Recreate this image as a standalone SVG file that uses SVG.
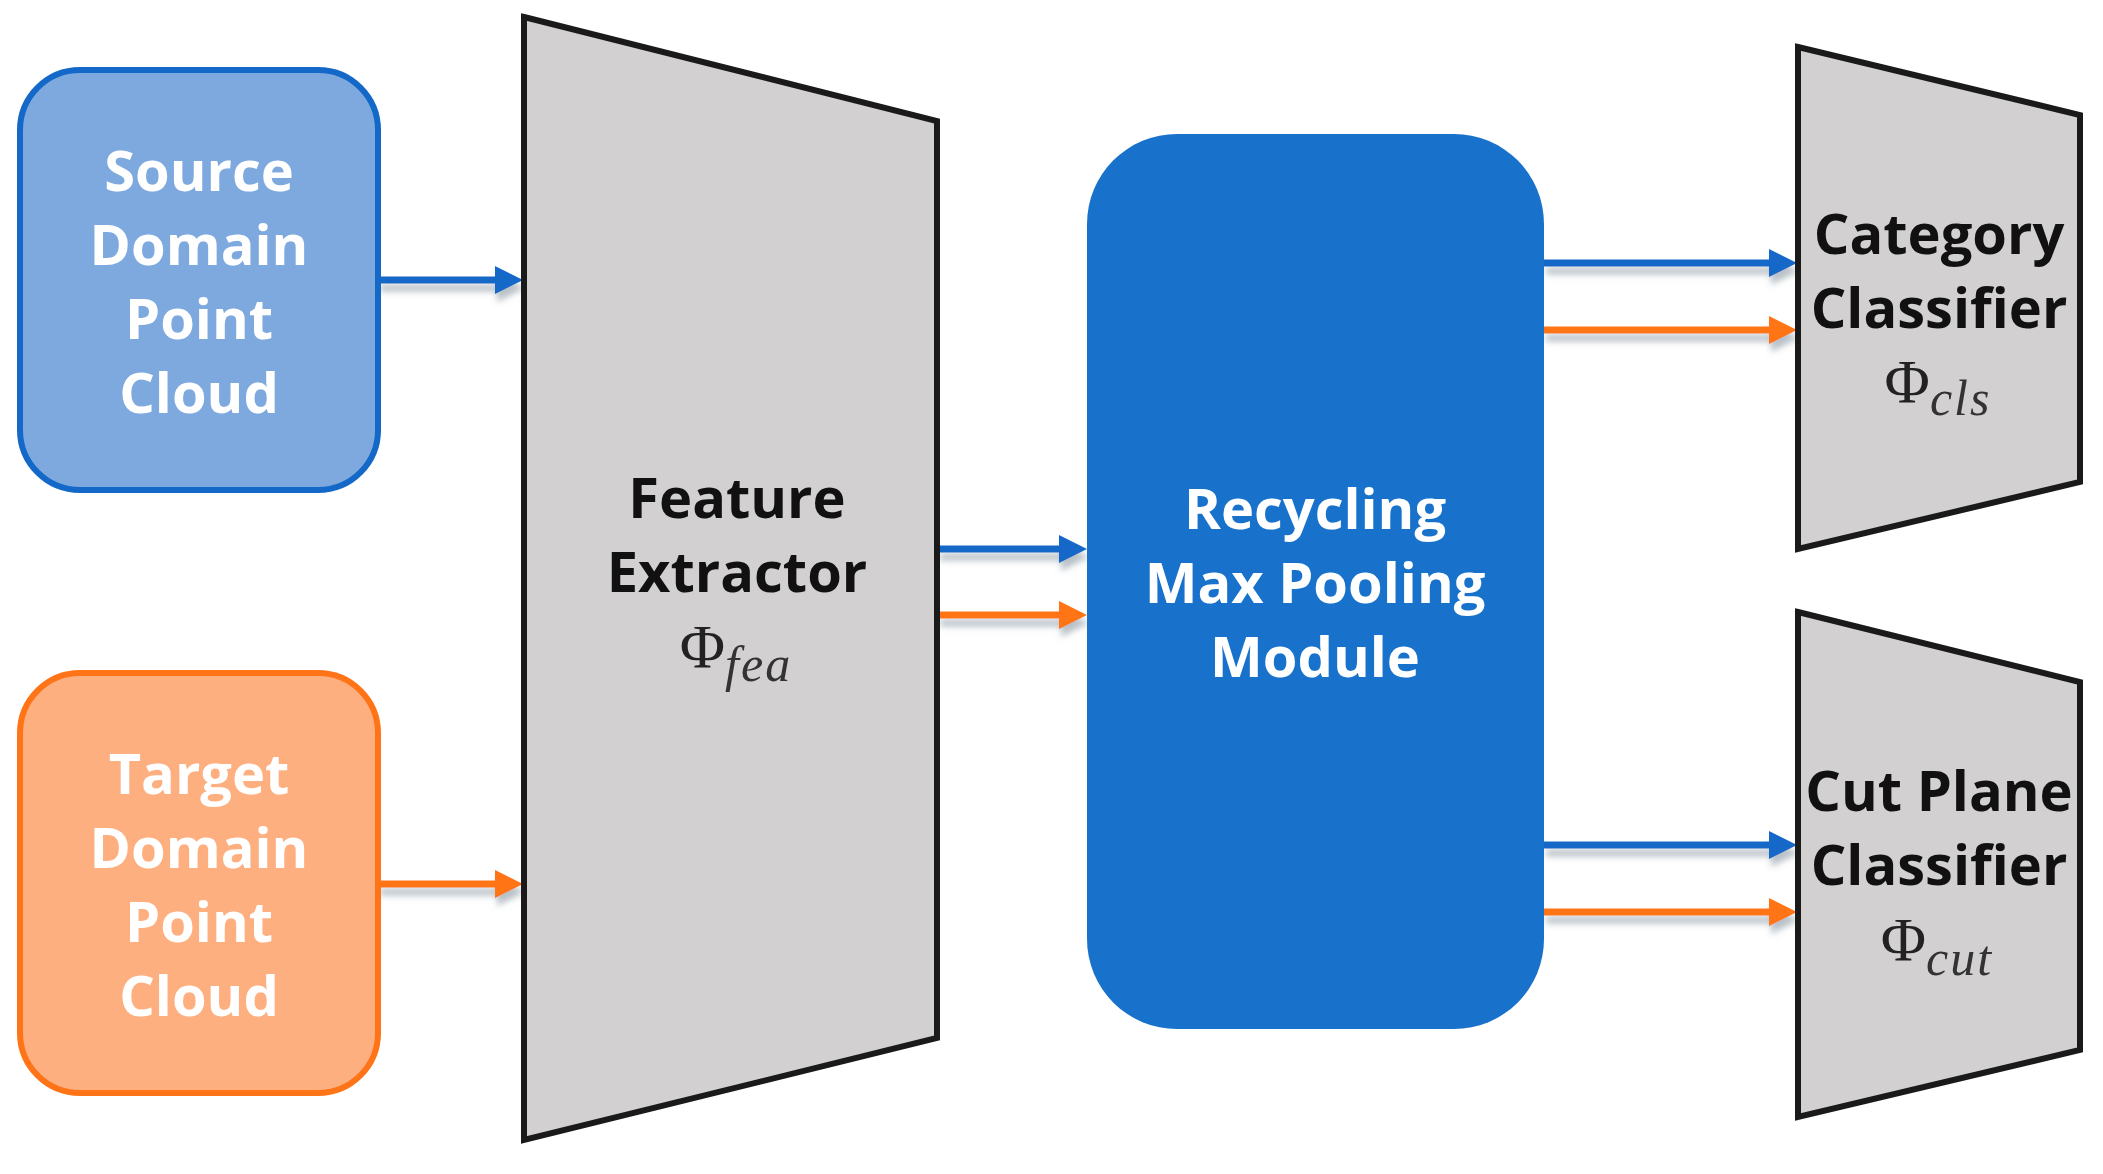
<svg xmlns="http://www.w3.org/2000/svg" width="2103" height="1174" viewBox="0 0 2103 1174">
<defs>
<style>
.lbl{font-family:"Open Sans","Noto Sans","Liberation Sans",sans-serif;font-weight:700;font-size:56px;text-anchor:middle}
.w{fill:#ffffff}
.k{fill:#111111}
.phi{font-family:"Liberation Serif","DejaVu Serif",serif;font-size:62px;fill:#222222}
.sub{font-family:"Liberation Serif","DejaVu Serif",serif;font-style:italic;font-size:50px;fill:#333333;letter-spacing:2px}
.trap{fill:#D3D0D1;stroke:#1a1a1a;stroke-width:6;stroke-linejoin:miter}
.ab{stroke:#1467C8;stroke-width:7;fill:none}
.ao{stroke:#FF7417;stroke-width:7;fill:none}
</style>
<filter id="sh" filterUnits="userSpaceOnUse" x="0" y="0" width="2103" height="1174">
<feDropShadow dx="2" dy="8" stdDeviation="3" flood-color="#7f8e9a" flood-opacity="0.55"/>
</filter>
<marker id="hb" markerUnits="userSpaceOnUse" markerWidth="30" markerHeight="30" refX="2" refY="14" orient="auto">
<path d="M0,0 L28,14 L0,28 z" fill="#1467C8"/>
</marker>
<marker id="ho" markerUnits="userSpaceOnUse" markerWidth="30" markerHeight="30" refX="2" refY="14" orient="auto">
<path d="M0,0 L28,14 L0,28 z" fill="#FF7417"/>
</marker>
</defs>
<rect width="2103" height="1174" fill="#ffffff"/>

<g id="connectors" filter="url(#sh)">
<line class="ab" x1="378" y1="280" x2="497" y2="280" marker-end="url(#hb)"/>
<line class="ao" x1="378" y1="884" x2="497" y2="884" marker-end="url(#ho)"/>
<line class="ab" x1="938" y1="549" x2="1061" y2="549" marker-end="url(#hb)"/>
<line class="ao" x1="938" y1="615" x2="1061" y2="615" marker-end="url(#ho)"/>
<line class="ab" x1="1544" y1="263" x2="1771" y2="263" marker-end="url(#hb)"/>
<line class="ao" x1="1544" y1="330" x2="1771" y2="330" marker-end="url(#ho)"/>
<line class="ab" x1="1544" y1="845" x2="1771" y2="845" marker-end="url(#hb)"/>
<line class="ao" x1="1544" y1="912" x2="1771" y2="912" marker-end="url(#ho)"/>
</g>

<g id="source">
<rect x="20" y="70" width="358" height="420" rx="60" ry="60" fill="#7EA9DF" stroke="#1468C8" stroke-width="6"/>
<text class="lbl w" x="199" y="191">Source</text>
<text class="lbl w" x="199" y="265">Domain</text>
<text class="lbl w" x="199" y="339">Point</text>
<text class="lbl w" x="199" y="413">Cloud</text>
</g>

<g id="target">
<rect x="20" y="673" width="358" height="420" rx="60" ry="60" fill="#FDAF80" stroke="#FF7417" stroke-width="6"/>
<text class="lbl w" x="199" y="794">Target</text>
<text class="lbl w" x="199" y="868">Domain</text>
<text class="lbl w" x="199" y="942">Point</text>
<text class="lbl w" x="199" y="1016">Cloud</text>
</g>

<g id="feature-extractor">
<polygon class="trap" points="524,17 937,121 937,1038 524,1140"/>
<text class="lbl k" x="737" y="518">Feature</text>
<text class="lbl k" x="737" y="592">Extractor</text>
<text x="736" y="667" text-anchor="middle"><tspan class="phi">Φ</tspan><tspan class="sub" dy="14">fea</tspan></text>
</g>

<g id="recycling-max-pooling">
<rect x="1087" y="134" width="457" height="895" rx="90" ry="90" fill="#1872CB"/>
<text class="lbl w" x="1315" y="529">Recycling</text>
<text class="lbl w" x="1315" y="603">Max Pooling</text>
<text class="lbl w" x="1315" y="677">Module</text>
</g>

<g id="category-classifier">
<polygon class="trap" points="1798,47 2080,115 2080,482 1798,549"/>
<text class="lbl k" x="1939" y="254">Category</text>
<text class="lbl k" x="1939" y="328">Classifier</text>
<text x="1938" y="402" text-anchor="middle"><tspan class="phi">Φ</tspan><tspan class="sub" dy="13">cls</tspan></text>
</g>

<g id="cut-plane-classifier">
<polygon class="trap" points="1798,612 2080,682 2080,1050 1798,1117"/>
<text class="lbl k" x="1939" y="811">Cut Plane</text>
<text class="lbl k" x="1939" y="885">Classifier</text>
<text x="1937" y="960" text-anchor="middle"><tspan class="phi">Φ</tspan><tspan class="sub" dy="15">cut</tspan></text>
</g>
</svg>
